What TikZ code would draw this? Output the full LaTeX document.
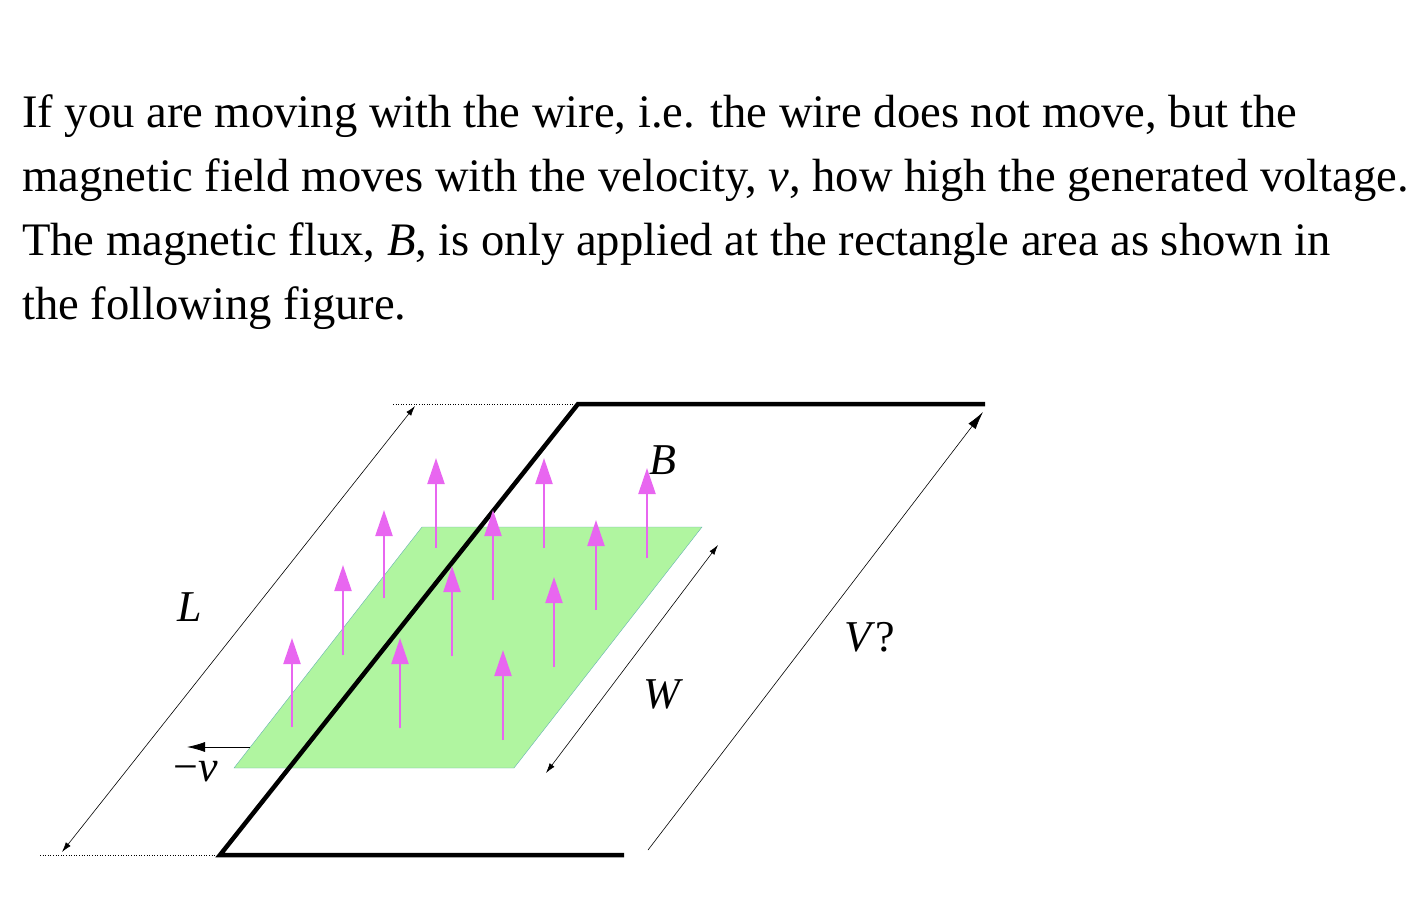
\documentclass[tikz,border=0pt]{standalone}
\usepackage{fontspec}
\setmainfont{Liberation Serif}
\usetikzlibrary{arrows.meta}
\definecolor{fieldgreen}{HTML}{B0F5A0}
\definecolor{fieldmag}{HTML}{E866F0}
\begin{document}
\begin{tikzpicture}[x=1pt,y=-1pt,
  wire/.style={line width=4.5pt},
  dim/.style={line width=0.6pt,{Latex[length=10pt,width=6pt]}-{Latex[length=10pt,width=6pt]}},
  flux/.style={fieldmag,line width=2.2pt,-{Triangle[length=26pt,width=17pt]}},
  lbl/.style={font=\fontsize{44}{44}\selectfont\itshape,inner sep=0pt},
  txt/.style={font=\fontsize{46.6}{64}\selectfont,anchor=north west,align=left,inner sep=0pt}]
\useasboundingbox (0,0) rectangle (1428,912);
\node[txt] (t) at (22,94) {If you are moving with the wire, i.e. the wire does not move, but the\\
magnetic field moves with the velocity, \textit{v}, how high the generated voltage.\\
The magnetic flux, \textit{B}, is only applied at the rectangle area as shown in\\
the following figure.};
% field area
\coordinate (g1) at (422,527); \coordinate (g2) at (702,527);
\coordinate (g3) at (514,768); \coordinate (g4) at (234,768);
\fill[fieldgreen,draw=teal!60,line width=0.4pt] (g1)--(g2)--(g3)--(g4)--cycle;
% wire
\coordinate (w1) at (985,404); \coordinate (w2) at (578,404);
\coordinate (w3) at (220,855); \coordinate (w4) at (624,855);
\draw[wire] (w1)--(w2)--(w3)--(w4);
\coordinate (d1) at (393,404); \coordinate (d2) at (40,855);
\draw[dotted,line width=0.6pt] (d1)--(w2) (d2)--(w3);
% dimensions
\coordinate (L1) at (62,852); \coordinate (L2) at (415,406);
\draw[dim] (L1)--(L2);
\node[lbl] (L) at (190,607) {L};
\coordinate (V1) at (648,850); \coordinate (V2) at (983,412);
\draw[line width=0.6pt,-{Latex[length=18pt,width=9pt]}] (V1)--(V2);
\node[lbl] (V) at (870,637) {\upshape\textit{V}?};
\coordinate (W1) at (546,773); \coordinate (W2) at (718,545);
\draw[dim] (W1)--(W2);
\node[lbl] (W) at (662,694) {W};
\coordinate (v1) at (250,747); \coordinate (v2) at (187,747);
\draw[line width=0.8pt,-{Latex[length=18pt,width=10pt]}] (v1)--(v2);
\node[lbl] (vlab) at (196,772) {\upshape−\itshape v};
\node[lbl] (B) at (663,460) {B};
% flux arrows
\foreach \x/\b/\t [count=\i] in {436/548/458,544/548/458,647/558/468,384/598/510,493/600/510,596/610/520,343/655/565,452/656/566,554/667/577,292/727/638,400/728/638,503/740/650}{
  \coordinate (fb\i) at (\x,\b); \coordinate (ft\i) at (\x,\t);
  \draw[flux] (fb\i)--(ft\i);
}
\end{tikzpicture}
\end{document}
